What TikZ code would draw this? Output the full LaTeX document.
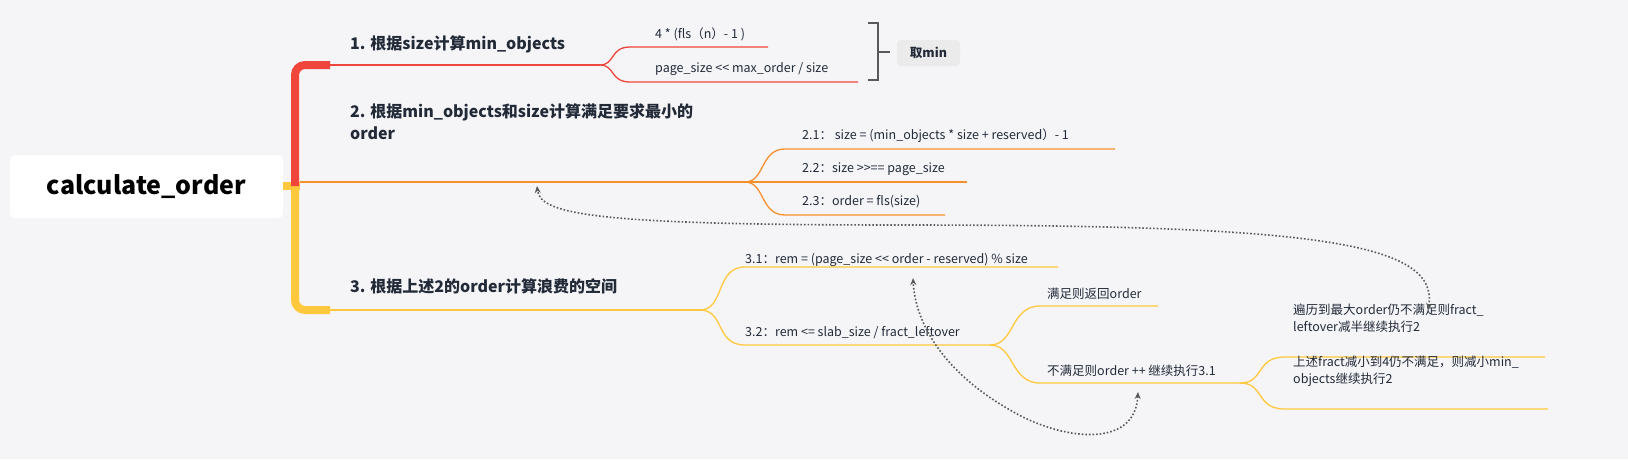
\documentclass[tikz,border=0pt]{standalone}
\usepackage{fontspec}
\setmainfont{Noto Sans CJK SC}[Ligatures=NoCommon]
\usetikzlibrary{arrows.meta}
\definecolor{bg}{HTML}{F5F5F8}
\definecolor{cred}{HTML}{F0453A}
\definecolor{corg}{HTML}{F7902C}
\definecolor{cyel}{HTML}{FFC83D}
\definecolor{ctxt}{HTML}{222A38}
\newcommand{\shl}{{<}{<}}
\tikzset{
  lbl/.style={anchor=base west,inner sep=0pt,text=ctxt,font=\fontsize{12.5}{16.5}\selectfont},
  mainlbl/.style={anchor=base west,inner sep=0pt,text=ctxt,font=\fontsize{16}{27}\selectfont\bfseries,align=left},
  br/.style={line width=1.6pt},
  sub/.style={line width=1.3pt},
  relline/.style={dotted,line width=1.6pt,draw=black!65,{Stealth[length=7pt,width=6pt]}-{Stealth[length=7pt,width=6pt]}},
}
\begin{document}
\begin{tikzpicture}[x=1pt,y=-1pt]
\fill[bg] (0,0) rectangle (1628,459);
\useasboundingbox (0,0) rectangle (1628,459);
% root
\node[fill=white,rounded corners=5pt,minimum width=273pt,minimum height=63pt,font=\fontsize{25}{30}\selectfont\bfseries,text=black] (root) at (146.5,186.5) {calculate\_order};
% trunk
\fill[cyel] (283,182) rectangle (300,190);
\draw[cyel,line width=8pt,rounded corners=10pt] (295,182) -- (295,310) -- (330,310);
\draw[cred,line width=8pt,rounded corners=10pt] (295,186) -- (295,65) -- (330,65);
% coordinates
\coordinate (b1s) at (310,65); \coordinate (b1e) at (600,65);
\coordinate (b2s) at (300,182); \coordinate (b2e) at (745,182);
\coordinate (b3s) at (310,310); \coordinate (b3e) at (700,310);
\draw[cred,br] (b1s) -- (b1e);
\draw[corg,br] (b2s) -- (b2e);
\draw[cyel,br] (b3s) -- (b3e);
\node[mainlbl] (l1) at (350,49) {1. 根据size计算min\_objects};
\node[mainlbl] (l2) at (350,139) {2. 根据min\_objects和size计算满足要求最小的\\[-5pt]order};
\node[mainlbl] (l3) at (350,292) {3. 根据上述2的order计算浪费的空间};
% branch 1 children
\draw[cred,sub] (b1e) .. controls (615,65) and (610,47) .. (630,47) -- (768,47);
\draw[cred,sub] (b1e) .. controls (615,65) and (610,82) .. (630,82) -- (858,82);
\node[lbl] (c11) at (655,38) {4 * (fls（n）- 1 )};
\node[lbl] (c12) at (655,72) {page\_size \shl{} max\_order / size};
\draw[black!65,line width=1.5pt] (868,23) -- (878,23) -- (878,80) -- (868,80);
\draw[black!65,line width=1.5pt] (878,52) -- (890,52);
\node[fill=black!8,rounded corners=4pt,minimum width=63pt,minimum height=26pt,font=\fontsize{12.5}{14}\selectfont\bfseries,text=ctxt] (min) at (928.5,53) {取min};
% branch 2 children
\draw[corg,sub] (b2e) .. controls (765,182) and (760,149) .. (785,149) -- (1115,149);
\draw[corg,sub] (b2e) -- (967,182);
\draw[corg,sub] (b2e) .. controls (765,182) and (760,215) .. (785,215) -- (945,215);
\node[lbl] (c21) at (802,139) {2.1：\ size = (min\_objects * size + reserved）- 1};
\node[lbl] (c22) at (802,172) {2.2：size {>}{>}== page\_size};
\node[lbl] (c23) at (802,205) {2.3：order = fls(size)};
% branch 3 children
\coordinate (c32e) at (990,345);
\draw[cyel,sub] (b3e) .. controls (725,310) and (715,267) .. (745,267) -- (1058,267);
\draw[cyel,sub] (b3e) .. controls (725,310) and (715,345) .. (745,345) -- (c32e);
\node[lbl] (c31) at (745,263) {3.1：rem = (page\_size \shl{} order - reserved) \% size};
\node[lbl] (c32) at (745,336) {3.2：rem {<}= slab\_size / fract\_leftover};
\coordinate (c34e) at (1240,383);
\draw[cyel,sub] (c32e) .. controls (1015,345) and (1010,306) .. (1040,306) -- (1158,306);
\draw[cyel,sub] (c32e) .. controls (1015,345) and (1010,383) .. (1040,383) -- (c34e);
\node[lbl] (c33) at (1047,298) {满足则返回order};
\node[lbl] (c34) at (1047,375) {不满足则order ++ 继续执行3.1};
\draw[cyel,sub] (c34e) .. controls (1265,383) and (1255,357) .. (1285,357) -- (1545,357);
\draw[cyel,sub] (c34e) .. controls (1265,383) and (1255,409) .. (1285,409) -- (1548,409);
\node[lbl,align=left] (c35) at (1293,331) {遍历到最大order仍不满足则fract\_\\leftover减半继续执行2};
\node[lbl,align=left] (c36) at (1293,383) {上述fract减小到4仍不满足，则减小min\_\\objects继续执行2};
% dashed relations
\coordinate (d1a) at (1428,310); \coordinate (d1b) at (537,186);
\draw[relline] (d1a) .. controls (1440,240) and (1300,225) .. (900,225) .. controls (600,225) and (540,215) .. (d1b);
\coordinate (d2a) at (1138,392); \coordinate (d2b) at (913,278);
\draw[relline] (d2a) .. controls (1135,450) and (1060,440) .. (1010,410) .. controls (940,370) and (915,320) .. (d2b);
\end{tikzpicture}
\end{document}
